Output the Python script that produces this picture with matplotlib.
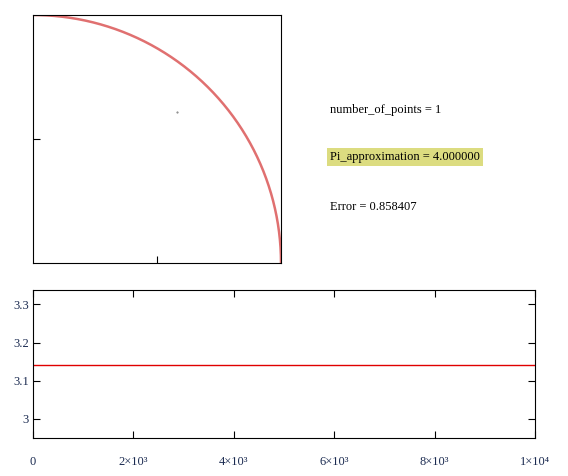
import numpy as np
import matplotlib
matplotlib.use("Agg")
import matplotlib.pyplot as plt

plt.rcParams["font.family"] = ["Liberation Serif", "DejaVu Serif"]

# random point inside the square (only one drawn)
point_x = [0.58]
point_y = [0.61]
number_of_points = 1
pi_approximation = 4.000000
error = 0.858407

# reference line of pi across the iterations
iter_x = [0, 10000]
pi_line = [np.pi, np.pi]
x_labels = ["0", "2×10³", "4×10³", "6×10³", "8×10³", "1×10⁴"]

theta = np.linspace(0, np.pi / 2, 200)

fig = plt.figure(figsize=(5.68, 4.76), dpi=100)

ax1 = fig.add_axes([33 / 568, 213 / 476, 248 / 568, 248 / 476])
ax1.plot(np.cos(theta), np.sin(theta), color="#e07070", lw=1.8)
ax1.plot(point_x, point_y, ".", color="#777777", ms=1)
ax1.set_xlim(0, 1)
ax1.set_ylim(0, 1)
ax1.set_xticks([0.5])
ax1.set_yticks([0.5])
ax1.set_xticklabels([])
ax1.set_yticklabels([])
ax1.tick_params(direction="in", length=5, color="black")

fig.text(330 / 568, 1 - 110 / 476, f"number_of_points = {number_of_points}",
         fontsize=9, va="center")
fig.text(330 / 568, 1 - 157 / 476, f"Pi_approximation = {pi_approximation:.6f}",
         fontsize=9, va="center",
         bbox=dict(facecolor="#dcdc80", edgecolor="none", pad=2))
fig.text(330 / 568, 1 - 207 / 476, f"Error = {error:.6f}",
         fontsize=9, va="center")

ax2 = fig.add_axes([33 / 568, 38 / 476, 502 / 568, 148 / 476])
ax2.plot(iter_x, pi_line, color="#e00000", lw=1)
ax2.set_xlim(0, 10000)
ax2.set_ylim(2.949, 3.338)
ax2.set_yticks([3.0, 3.1, 3.2, 3.3])
ax2.set_yticklabels(["3", "3.1", "3.2", "3.3"])
ax2.set_xticks([0, 2000, 4000, 6000, 8000, 10000])
ax2.set_xticklabels(x_labels)
ax2.tick_params(direction="in", length=5, top=True, right=True,
                labelsize=9, labelcolor="#1a2a50")
ax2.tick_params(axis="x", pad=13)
ax2.tick_params(axis="y", pad=3)

fig.savefig("out.png", dpi=100)
